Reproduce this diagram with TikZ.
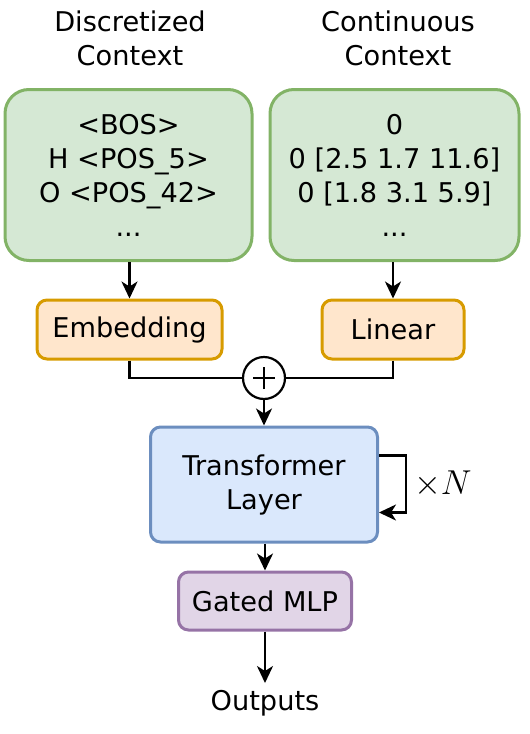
\documentclass[tikz,border=0pt]{standalone}
\usepackage{fontspec}
\setmainfont{DejaVu Sans}
\usetikzlibrary{positioning,arrows.meta}

\definecolor{ctxfill}{HTML}{D5E8D4}
\definecolor{ctxline}{HTML}{82B366}
\definecolor{embfill}{HTML}{FFE6CC}
\definecolor{embline}{HTML}{D79B00}
\definecolor{trffill}{HTML}{DAE8FC}
\definecolor{trfline}{HTML}{6C8EBF}
\definecolor{mlpfill}{HTML}{E1D5E7}
\definecolor{mlpline}{HTML}{9673A6}

\begin{document}
\begin{tikzpicture}[
		x=0.5pt,
		y=-0.5pt,
		every node/.style={
			font=\fontsize{13.6}{17}\selectfont,
			align=center,
		},
		ctx/.style={
			draw=ctxline,
			fill=ctxfill,
			line width=1.5pt,
			rounded corners=12pt,
			minimum height=85.5pt,
		},
		block/.style={
			line width=1.5pt,
			rounded corners=5pt,
			minimum height=29.5pt,
		},
		link/.style={
			line width=1.1pt,
			-{Stealth[length=8.5pt,width=8pt,inset=2.5pt]},
		},
	]
		\useasboundingbox (0,0) rectangle (530,734);
		\node (dtitle) at (130,38) {Discretized\\Context};
		\node (ctitle) at (398,38) {Continuous\\Context};
		\node[ctx, minimum width=123.5pt] (disc) at (128.5,175)
			{<BOS>\\H <POS\_5>\\O <POS\_42>\\...};
		\node[ctx, minimum width=124.5pt] (cont) at (394.5,175)
			{0\\0 [2.5 1.7 11.6]\\0 [1.8 3.1 5.9]\\...};
		\node[block, draw=embline, fill=embfill, minimum width=92.5pt] (emb) at (129.5,329.5) {Embedding};
		\node[block, draw=embline, fill=embfill, minimum width=71pt] (lin) at (393,329.5) {Linear};
		\node[draw, fill=white, circle, line width=1.1pt, minimum size=21pt, inner sep=0pt,
			path picture={
				\draw[line width=1.1pt] ([xshift=-5.5pt]path picture bounding box.center) -- ++(11pt,0);
				\draw[line width=1.1pt] ([yshift=-5.5pt]path picture bounding box.center) -- ++(0,11pt);
			}] (plus) at (264,378) {};
		\node[block, draw=trfline, fill=trffill, minimum width=113.5pt, minimum height=57.5pt] (trf) at (264,484.5)
			{Transformer\\Layer};
		\node[block, draw=mlpline, fill=mlpfill, minimum width=86.5pt, minimum height=29pt] (mlp) at (265,601) {Gated MLP};
		\node[right=14pt of trf.east] (times) {\scalebox{1.2}{$\times N$}};

		\node (out) at (265,703) {Outputs};

		\draw[link] (disc.south -| emb.north) -- (emb.north);
		\draw[link] (cont.south -| lin.north) -- (lin.north);
		\draw[line width=1.1pt] (emb.south) |- (plus.west);
		\draw[line width=1.1pt] (lin.south) |- (plus.east);
		\draw[link] (plus.south) -- (trf.north -| plus.south);
		\draw[link] ([yshift=14.5pt]trf.east) -- ++(13.5pt,0) |- ([yshift=-14pt]trf.east);
		\draw[link] (trf.south -| mlp.north) -- (mlp.north);
		\draw[link] (mlp.south) -- (out.north);
	\end{tikzpicture}
\end{document}
